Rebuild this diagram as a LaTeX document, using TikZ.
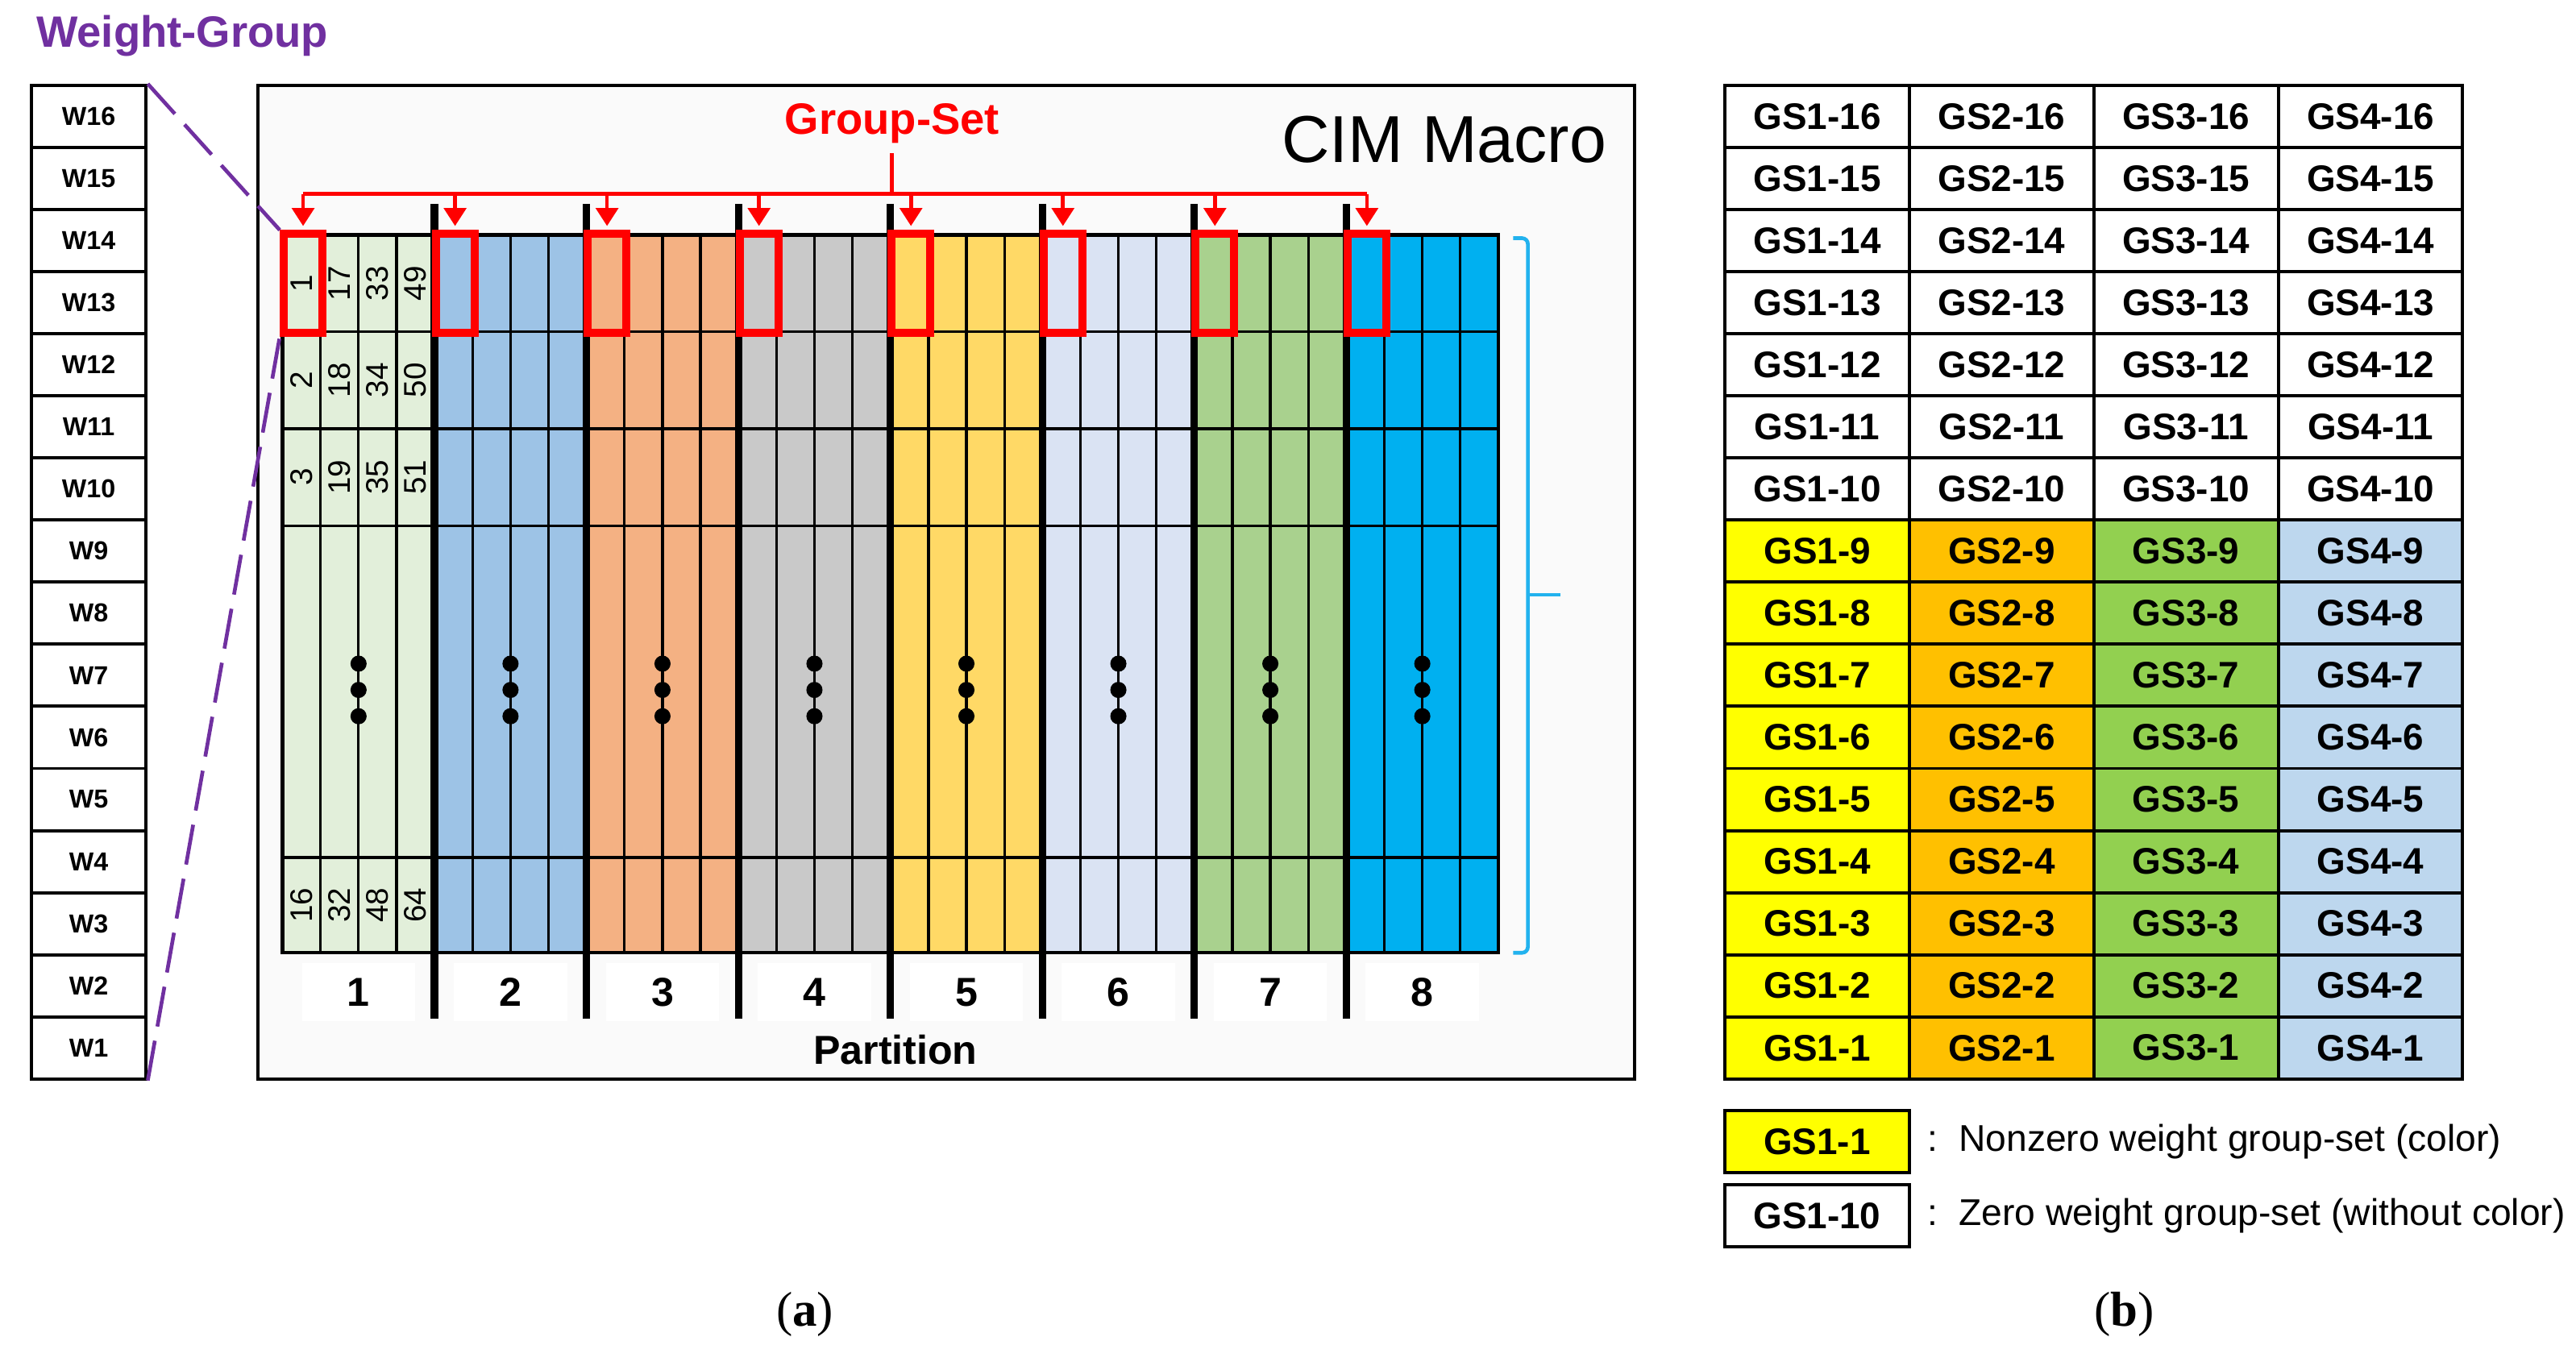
\documentclass[tikz,border=0pt]{standalone}
\usepackage{fontspec}
\setmainfont{Liberation Serif}
\setsansfont{Liberation Sans}
\usetikzlibrary{arrows.meta}
\usetikzlibrary{positioning}

\definecolor{wgpurple}{HTML}{7030A0}
\definecolor{gsred}{HTML}{FF0000}
\definecolor{brcyan}{HTML}{22B2EE}
\definecolor{macrobg}{HTML}{FAFAFA}
\definecolor{pone}{HTML}{E2EFDA}
\definecolor{ptwo}{HTML}{9DC3E6}
\definecolor{pthree}{HTML}{F4B183}
\definecolor{pfour}{HTML}{C9C9C9}
\definecolor{pfive}{HTML}{FFD966}
\definecolor{psix}{HTML}{DAE3F3}
\definecolor{pseven}{HTML}{A9D18E}
\definecolor{peight}{HTML}{00B0F0}
\definecolor{gsone}{HTML}{FFFF00}
\definecolor{gstwo}{HTML}{FFC000}
\definecolor{gsthree}{HTML}{92D050}
\definecolor{gsfour}{HTML}{BDD7EE}

\tikzset{
  wcell/.style={draw, line width=1.1pt, fill=white, minimum width=1.4cm, minimum height=0.756cm,
    inner sep=0pt, font=\sffamily\bfseries\fontsize{9}{10}\selectfont},
  gscell/.style={draw, line width=1.1pt, minimum width=2.245cm, minimum height=0.756cm,
    inner sep=0pt, font=\sffamily\bfseries\fontsize{12.8}{14}\selectfont},
  selbox/.style={draw=gsred, line width=2.8pt, minimum width=0.47cm, minimum height=1.2cm, inner sep=0pt},
  cellnum/.style={rotate=90, inner sep=0pt, font=\sffamily\fontsize{10.8}{11}\selectfont},
  partnum/.style={fill=white, minimum width=1.38cm, minimum height=0.7cm, inner sep=0pt,
    font=\sffamily\bfseries\fontsize{14}{15}\selectfont},
  redline/.style={gsred, line width=1.3pt},
  wgdash/.style={wgpurple, line width=1.3pt, dash pattern=on 14pt off 5pt},
  gridline/.style={line width=0.9pt},
  thickdiv/.style={line width=2.6pt}
}

\begin{document}
\begin{tikzpicture}[x=0.02cm, y=-0.02cm]
  \useasboundingbox (0,0) rectangle (1568,829);

  \node[anchor=west, wgpurple, font=\sffamily\bfseries\fontsize{15.2}{17}\selectfont] (wgtitle) at (16,22) {Weight-Group};
  \foreach \k in {1,...,16}
    \node[wcell] (w\k) at (54, {52+37.8*(16.5-\k)}) {W\k};

  \draw[fill=macrobg, line width=1pt] (157,52) rectangle (995,657);
  \node[font=\sffamily\fontsize{23}{26}\selectfont] (cim) at (879,85) {CIM Macro};

  \foreach \col [count=\i from 0] in {pone,ptwo,pthree,pfour,pfive,psix,pseven,peight}
    \fill[\col] ({172+92.5*\i},143) rectangle ++(92.5,437);
  \foreach \y in {202,261,320,522}
    \draw[gridline] (172,\y) -- (912,\y);
  \foreach \k in {1,...,31}
    \draw[gridline] ({172+23.125*\k},143) -- ({172+23.125*\k},580);
  \draw[line width=1.2pt] (172,143) rectangle (912,580);
  \foreach \k in {1,...,7}
    \draw[thickdiv] ({172+92.5*\k},124) -- ({172+92.5*\k},620);

  \foreach \i in {0,...,7}{
    \foreach \yd in {404,420,436}
      \fill ({172+92.5*\i+46.25},\yd) circle (2.8pt);
  }

  \foreach \b/\yc in {1/172.5, 2/231.5, 3/290.5, 16/551}
    \foreach \j in {1,...,4}{
      \pgfmathtruncatemacro\n{\b+16*(\j-1)}
      \node[cellnum] (n\n) at ({172+23.125*(\j-0.5)},\yc) {\n};
    }

  \foreach \i in {1,...,8}{
    \node[partnum] (p\i) at ({172+92.5*(\i-0.5)},604) {\i};
  }
  \node[font=\sffamily\bfseries\fontsize{14}{15}\selectfont] (ptitle) at (545,639) {Partition};

  \node[gsred, font=\sffamily\bfseries\fontsize{15.2}{17}\selectfont] (gset) at (543,75) {Group-Set};
  \coordinate (bus) at (0,118);
  \foreach \i in {1,...,8}{
    \node[selbox] (sel\i) at ({172+92.5*(\i-1)+12.5},172.5) {};
    \draw[redline, -{Triangle[length=0.22cm, width=0.27cm]}] (sel\i.north |- bus) -- ([yshift=1.4pt]sel\i.north);
  }
  \draw[redline] (sel1.north |- bus) -- (sel8.north |- bus);
  \draw[redline] (gset.south) -- (gset.south |- bus);

  \draw[wgdash] (w16.north east) -- (sel1.north west);
  \draw[wgdash] (w1.south east) -- (sel1.south west);

  \draw[brcyan, line width=1.3pt, rounded corners=2pt] (921,145) -- (930,145) -- (930,580) -- (921,580);
  \draw[brcyan, line width=1.3pt] (930,362) -- (950,362);

  \foreach \c/\col in {1/gsone,2/gstwo,3/gsthree,4/gsfour}{
    \foreach \r in {1,...,9}
      \node[gscell, fill=\col] (gs\c-\r) at ({1050+112.25*(\c-0.5)}, {52+37.8*(16.5-\r)}) {GS\c-\r};
    \foreach \r in {10,...,16}
      \node[gscell, fill=white] (gs\c-\r) at ({1050+112.25*(\c-0.5)}, {52+37.8*(16.5-\r)}) {GS\c-\r};
  }

  \node[gscell, fill=gsone] (keynz) at (1106,695) {GS1-1};
  \node[gscell, fill=white] (keyz) at (1106,740) {GS1-10};
  \node[right=0.2cm of keynz, inner sep=0pt, font=\sffamily\fontsize{12.9}{14}\selectfont] (keynztxt) {:\ \ Nonzero weight group-set (color)};
  \node[right=0.2cm of keyz, inner sep=0pt, font=\sffamily\fontsize{12.9}{14}\selectfont] (keyztxt) {:\ \ Zero weight group-set (without color)};

  \node[font=\fontsize{17}{20}\selectfont] (capa) at (490,800) {(\textbf{a})};
  \node[font=\fontsize{17}{20}\selectfont] (capb) at (1293,800) {(\textbf{b})};
\end{tikzpicture}
\end{document}
